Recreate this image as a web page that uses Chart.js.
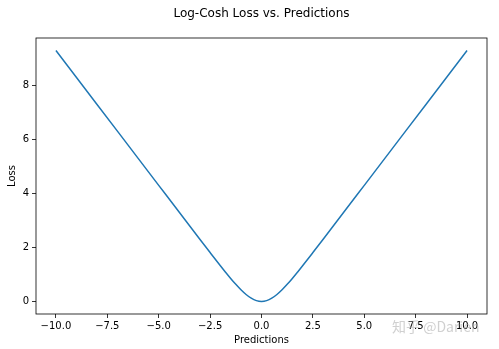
<!DOCTYPE html>
<html>
<head>
<meta charset="utf-8">
<script src="https://cdn.jsdelivr.net/npm/chart.js@4"></script>
<style>
  html, body { margin:0; padding:0; background:#fff; }
  #wrap { width:499px; height:349px; }
</style>
</head>
<body>
<div id="wrap"><canvas id="chart" width="499" height="349"></canvas></div>
<script>
// predictions (x) and log-cosh loss
let preds = [-10, -9, -8, -7, -6, -5, -4, -3.5, -3, -2.5, -2, -1.75, -1.5, -1.25, -1, -0.75, -0.5, -0.25, 0,
             0.25, 0.5, 0.75, 1, 1.25, 1.5, 1.75, 2, 2.5, 3, 3.5, 4, 5, 6, 7, 8, 9, 10];
let loss = [9.307, 8.307, 7.307, 6.307, 5.307, 4.307, 3.307, 2.808, 2.309, 1.814, 1.325, 1.087, 0.855, 0.636, 0.434, 0.258, 0.120, 0.031, 0,
            0.031, 0.120, 0.258, 0.434, 0.636, 0.855, 1.087, 1.325, 1.814, 2.309, 2.808, 3.307, 4.307, 5.307, 6.307, 7.307, 8.307, 9.307];
let xTicks = [-10, -7.5, -5, -2.5, 0, 2.5, 5, 7.5, 10];
let yTicks = [0, 2, 4, 6, 8];
let title = "Log-Cosh Loss vs. Predictions";

const font = "'DejaVu Sans', sans-serif";

// axes frame, title centred over the axes, watermark
const frame = {
  id: "frame",
  afterDatasetsDraw(c){
    let a = c.chartArea, ctx = c.ctx;
    ctx.save();
    ctx.strokeStyle = "#000";
    ctx.lineWidth = 0.8;
    ctx.strokeRect(a.left, a.top, a.right - a.left, a.bottom - a.top);
    ctx.restore();
  },
  afterDraw(c){
    let a = c.chartArea, ctx = c.ctx;
    ctx.save();
    ctx.font = "12px " + font;
    ctx.fillStyle = "#000";
    ctx.textAlign = "center";
    ctx.textBaseline = "middle";
    ctx.fillText(title, (a.left + a.right) / 2, 14);
    ctx.textAlign = "left";
    ctx.font = "14px 'Noto Sans CJK SC', sans-serif";
    ctx.fillStyle = "rgba(170,170,170,0.55)";
    ctx.fillText("知乎 @Darien", 392, 327);
    ctx.restore();
  }
};

new Chart(document.getElementById("chart"), {
  type: "scatter",
  data: {
    datasets: [{
      data: preds.map((x, i) => ({x: x, y: loss[i]})),
      showLine: true,
      borderColor: "#1f77b4",
      borderWidth: 1.5,
      pointRadius: 0,
      cubicInterpolationMode: "monotone",
      fill: false
    }]
  },
  options: {
    responsive: false,
    animation: false,
    layout: { padding: { left: 0, right: 12, top: 38, bottom: 0 } },
    plugins: {
      legend: { display: false },
      tooltip: { enabled: false },
      title: { display: false }
    },
    scales: {
      x: {
        type: "linear",
        min: -10.97, max: 10.97,
        afterBuildTicks: s => { s.ticks = xTicks.map(v => ({value: v})); },
        afterFit: s => { s.height = 35; },
        grid: { drawOnChartArea: false, tickLength: 4, color: "#000", lineWidth: 0.8 },
        border: { display: false },
        ticks: {
          color: "#000", padding: 2, maxRotation: 0,
          font: { family: font, size: 10 },
          callback: v => v.toFixed(1).replace("-", "\u2212")
        },
        title: {
          display: true, text: "Predictions", color: "#000",
          font: { family: font, size: 10 }, padding: { top: 0, bottom: 3 }
        }
      },
      y: {
        type: "linear",
        min: -0.465, max: 9.772,
        afterBuildTicks: s => { s.ticks = yTicks.map(v => ({value: v})); },
        afterFit: s => { s.width = 36; },
        grid: { drawOnChartArea: false, tickLength: 4, color: "#000", lineWidth: 0.8 },
        border: { display: false },
        ticks: {
          color: "#000", padding: 3,
          font: { family: font, size: 10 }
        },
        title: {
          display: true, text: "Loss", color: "#000",
          font: { family: font, size: 10 }, padding: { top: 6, bottom: 0 }
        }
      }
    }
  },
  plugins: [frame]
});
</script>
</body>
</html>
